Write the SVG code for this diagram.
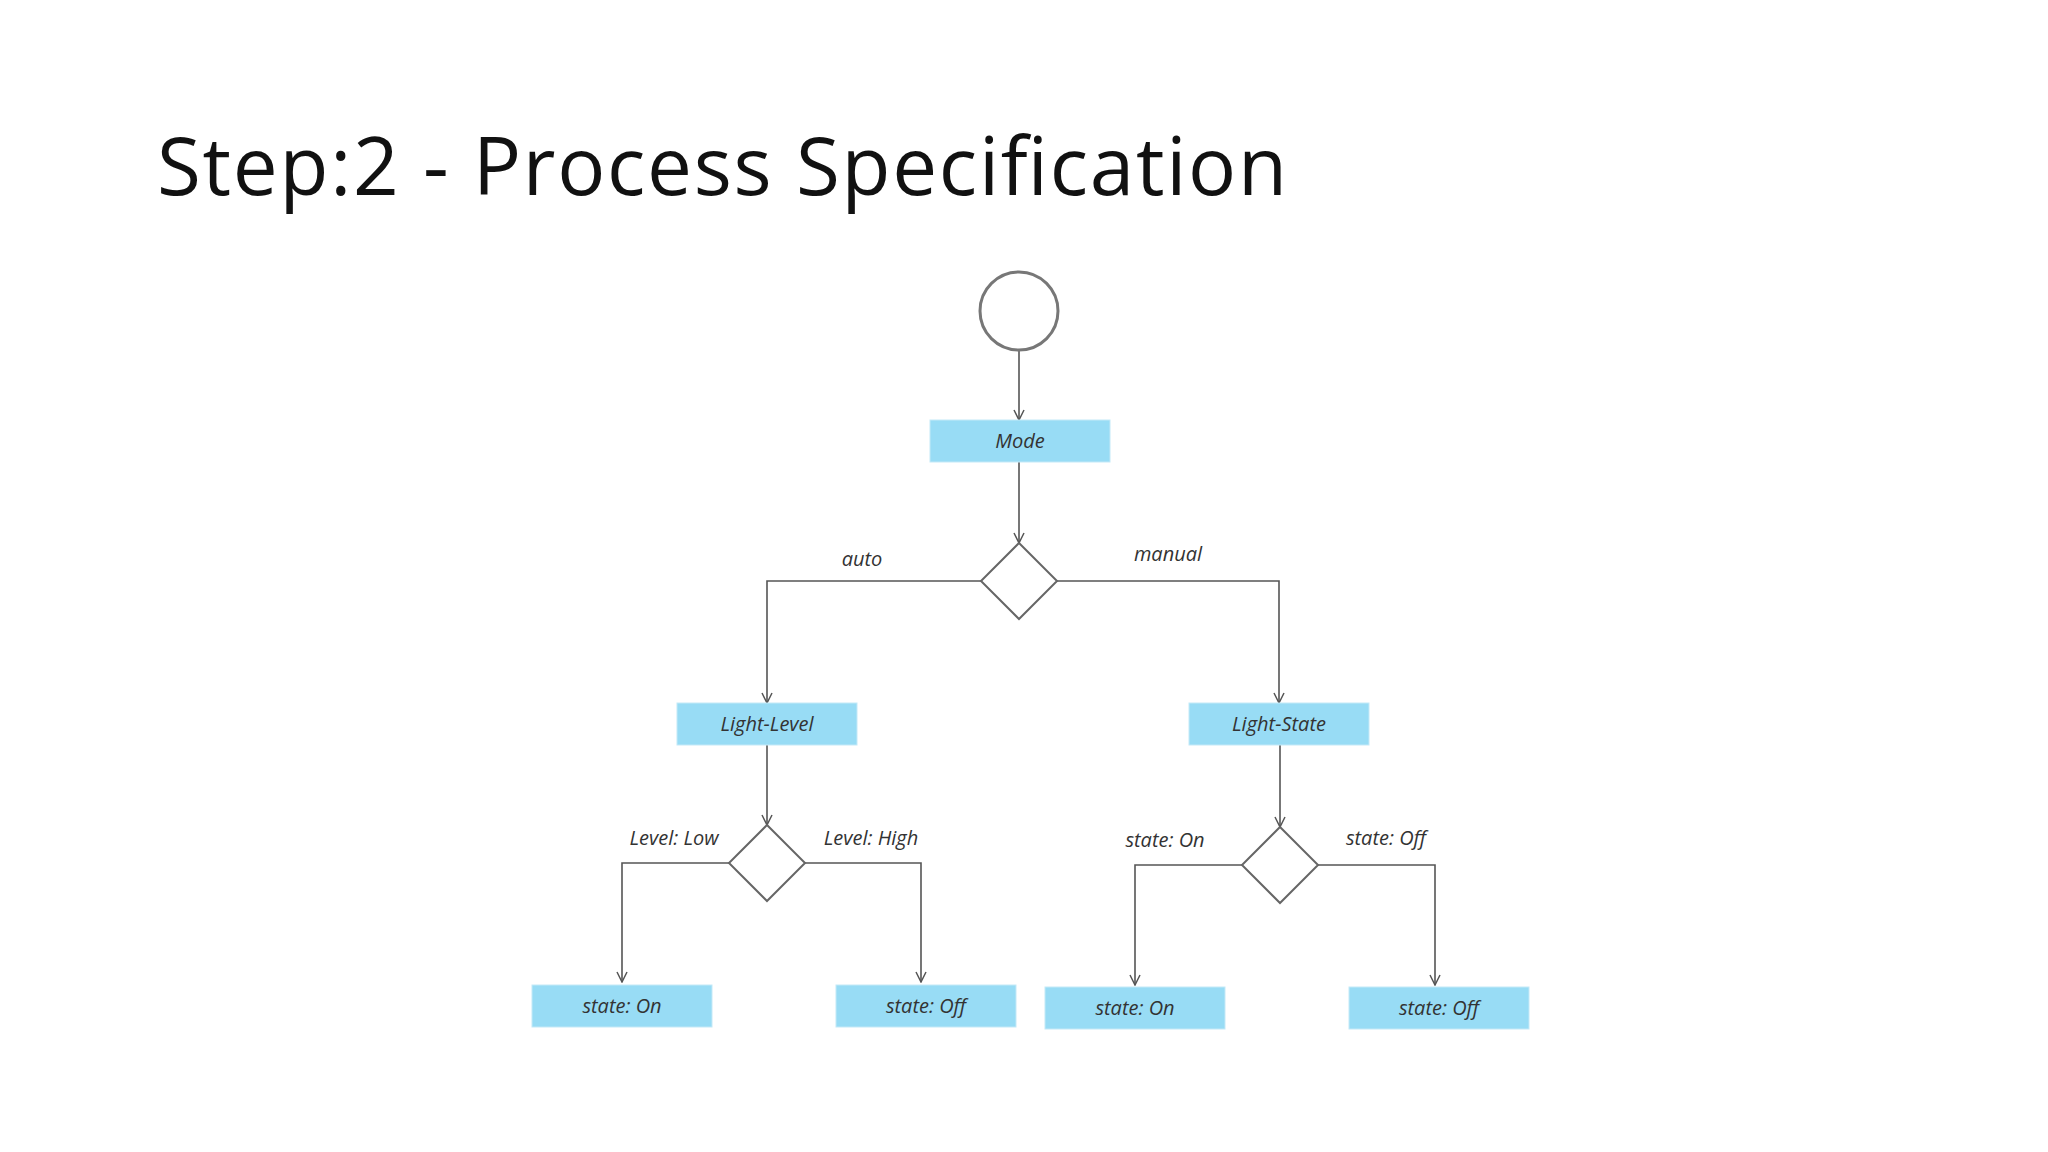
<svg xmlns="http://www.w3.org/2000/svg" width="2048" height="1152" viewBox="0 0 2048 1152">
<style>
.box{fill:#98dcf5;stroke:#c4e9f7;stroke-width:1}
.lbl{font-family:"Open Sans","Liberation Sans",sans-serif;font-style:italic;font-size:20px;fill:#333;text-anchor:middle}
.ln{fill:none;stroke:#555;stroke-width:1.6}
.dia{fill:#fff;stroke:#666;stroke-width:2}
</style>
<defs><marker id="a" viewBox="0 0 12 12" refX="11" refY="6" markerWidth="12" markerHeight="12" markerUnits="userSpaceOnUse" orient="auto"><polyline points="1,1 11,6 1,11" fill="none" stroke="#555" stroke-width="1.5"/></marker></defs>
<rect width="2048" height="1152" fill="#fff"/>
<text x="157" y="195" font-family="Open Sans, Liberation Sans, sans-serif" font-size="80" fill="#111" textLength="1130">Step:2 -  Process Specification</text>
<g id="connectors">
<path class="ln" d="M1019,350 V420" marker-end="url(#a)"/>
<path class="ln" d="M1019,462 V543" marker-end="url(#a)"/>
<path class="ln" d="M981,581 H767 V703" marker-end="url(#a)"/>
<path class="ln" d="M1057,581 H1279 V703" marker-end="url(#a)"/>
<path class="ln" d="M767,745 V825" marker-end="url(#a)"/>
<path class="ln" d="M1280,745 V827" marker-end="url(#a)"/>
<path class="ln" d="M729,863 H622 V982" marker-end="url(#a)"/>
<path class="ln" d="M805,863 H921 V982" marker-end="url(#a)"/>
<path class="ln" d="M1242,865 H1135 V985" marker-end="url(#a)"/>
<path class="ln" d="M1318,865 H1435 V985" marker-end="url(#a)"/>
<text class="lbl" x="862" y="566">auto</text>
<text class="lbl" x="1168" y="561">manual</text>
<text class="lbl" x="674" y="845">Level: Low</text>
<text class="lbl" x="871" y="845">Level: High</text>
<text class="lbl" x="1165" y="847">state: On</text>
<text class="lbl" x="1386" y="845">state: Off</text>
</g>
<g id="start"><circle cx="1019" cy="311" r="39" fill="#fff" stroke="#777" stroke-width="3"/></g>
<g id="mode"><rect class="box" x="930" y="420" width="180" height="42"/><text class="lbl" x="1020" y="448">Mode</text></g>
<g id="d1"><polygon class="dia" points="1019,543 1057,581 1019,619 981,581"/></g>
<g id="lightlevel"><rect class="box" x="677" y="703" width="180" height="42"/><text class="lbl" x="767" y="731">Light-Level</text></g>
<g id="lightstate"><rect class="box" x="1189" y="703" width="180" height="42"/><text class="lbl" x="1279" y="731">Light-State</text></g>
<g id="d2"><polygon class="dia" points="767,825 805,863 767,901 729,863"/></g>
<g id="d3"><polygon class="dia" points="1280,827 1318,865 1280,903 1242,865"/></g>
<g id="b1"><rect class="box" x="532" y="985" width="180" height="42"/><text class="lbl" x="622" y="1013">state: On</text></g>
<g id="b2"><rect class="box" x="836" y="985" width="180" height="42"/><text class="lbl" x="926" y="1013">state: Off</text></g>
<g id="b3"><rect class="box" x="1045" y="987" width="180" height="42"/><text class="lbl" x="1135" y="1015">state: On</text></g>
<g id="b4"><rect class="box" x="1349" y="987" width="180" height="42"/><text class="lbl" x="1439" y="1015">state: Off</text></g>
</svg>
